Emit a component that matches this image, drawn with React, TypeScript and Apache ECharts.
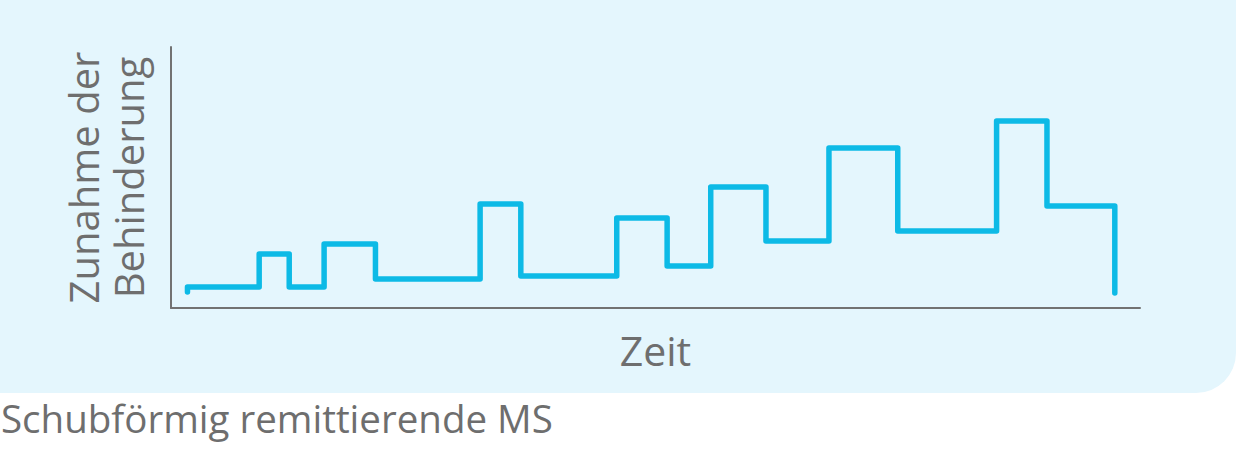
import React, { useEffect, useRef } from 'react';
import * as echarts from 'echarts';

// step corners: time (0..100) and disability level (0..100), step 'end'
const stepTimes = [1.7, 1.7, 9.1, 12.2, 15.8, 21.1, 31.9, 36.1, 46.0, 51.2, 55.7, 61.4, 67.9, 75.0, 85.2, 90.4, 97.4];
const levels = [6.1, 8.0, 20.7, 8.0, 24.5, 11.1, 39.8, 12.3, 34.5, 16.1, 46.4, 25.7, 61.3, 29.5, 71.6, 39.1, 5.7];

const yName = 'Zunahme der\nBehinderung';
const xName = 'Zeit';
const caption = 'Schubförmig remittierende MS';

const FONT = '"Open Sans", "Noto Sans", sans-serif';
const GREY = '#6e6e6e';

export default function App(): JSX.Element {
    const chartRef = useRef<HTMLDivElement>(null);

    useEffect(() => {
        if (chartRef.current === null) return;
        const chart = echarts.init(chartRef.current, undefined, { renderer: 'svg' });

        const points = stepTimes.map((t, i) => [t, levels[i]]);

        chart.setOption({
            animation: false,
            textStyle: { fontFamily: FONT },
            graphic: [
                {
                    type: 'rect',
                    z: -10,
                    silent: true,
                    shape: { x: 0, y: 0, width: 1236, height: 393, r: [0, 0, 40, 0] },
                    style: { fill: '#e4f6fd' },
                },
            ],
            title: {
                text: caption,
                left: 1,
                top: 398,
                padding: 0,
                textStyle: { fontFamily: FONT, fontSize: 38.5, fontWeight: 'normal', color: GREY },
            },
            grid: { left: 171, top: 47, right: 96, bottom: 149, containLabel: false },
            xAxis: {
                type: 'value',
                min: 0,
                max: 100,
                name: xName,
                nameLocation: 'middle',
                nameGap: 21,
                nameTextStyle: { fontFamily: FONT, fontSize: 41, color: GREY },
                axisLine: { show: true, lineStyle: { color: '#727272', width: 2 } },
                axisTick: { show: false },
                axisLabel: { show: false },
                splitLine: { show: false },
            },
            yAxis: {
                type: 'value',
                min: 0,
                max: 100,
                name: yName,
                nameLocation: 'middle',
                nameGap: 20,
                nameRotate: 90,
                nameTextStyle: { fontFamily: FONT, fontSize: 40, color: GREY, lineHeight: 45 },
                axisLine: { show: true, lineStyle: { color: '#727272', width: 2 } },
                axisTick: { show: false },
                axisLabel: { show: false },
                splitLine: { show: false },
            },
            series: [
                {
                    type: 'line',
                    step: 'end',
                    data: points,
                    symbol: 'none',
                    lineStyle: { color: '#0dbae6', width: 5.5, cap: 'round', join: 'round' },
                },
            ],
        });

        return () => {
            chart.dispose();
        };
    }, []);

    return (
        <div
            ref={chartRef}
            style={{ position: 'fixed', left: 0, top: 0, width: 1236, height: 457, background: '#ffffff' }}
        />
    );
}
